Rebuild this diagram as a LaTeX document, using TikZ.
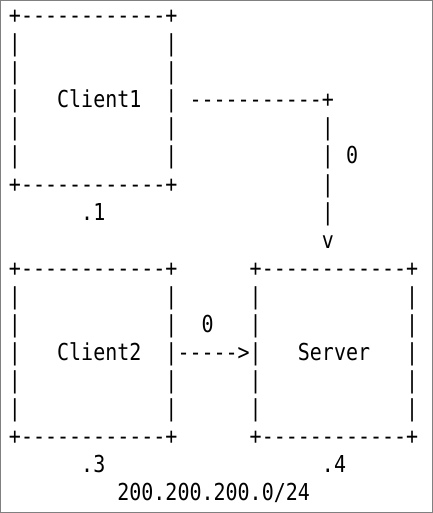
\documentclass[tikz,border=0pt]{standalone}
\usepackage{fontspec}
\usepackage{xcolor}
\usepackage{tikz}
\newfontfamily\asciifont[FakeStretch=0.857]{DejaVu Sans Mono}
\definecolor{framegray}{RGB}{128,128,128}

\begin{document}
\begin{tikzpicture}[
  x=9.03pt, y=-21.05pt,
  chr/.style={anchor=base west, inner sep=0pt, outer sep=0pt,
              font=\fontsize{17.5}{21}\asciifont},
  pageframe/.style={draw=framegray, line width=0.75pt},
]
  \useasboundingbox (-0.7475,-0.8446) rectangle (35.216,17.4376);
  \draw[pageframe] (-0.706,-0.8268) rectangle (35.174,17.4198);
  %% Client1 (.1)
  \node[chr] (c1top) at (0,0) {+------------+};
  \foreach \row in {1,...,5} {
    \node[chr] (c1l\row) at (0,\row)  {|};
    \node[chr] (c1r\row) at (13,\row) {|};
  }
  \node[chr] (c1bot)   at (0,6) {+------------+};
  \node[chr] (client1) at (4,3) {Client1};
  \node[chr] (c1ip)    at (6,7) {.1};
  %% Client1 --> Server
  \node[chr] (c1link) at (15,3) {-----------+};
  \foreach \row in {4,...,7}
    \node[chr] (c1down\row) at (26,\row) {|};
  \node[chr] (c1head)  at (26,8) {v};
  \node[chr] (c1label) at (28,5) {0};
  %% Client2 (.3)
  \node[chr] (c2top) at (0,9) {+------------+};
  \foreach \row in {10,...,14} {
    \node[chr] (c2l\row) at (0,\row)  {|};
    \node[chr] (c2r\row) at (13,\row) {|};
  }
  \node[chr] (c2bot)   at (0,15) {+------------+};
  \node[chr] (client2) at (4,12) {Client2};
  \node[chr] (c2ip)    at (6,16) {.3};
  %% Client2 --> Server
  \node[chr] (c2link)  at (14,12) {----->};
  \node[chr] (c2label) at (16,11) {0};
  %% Server (.4)
  \node[chr] (svtop) at (20,9) {+------------+};
  \foreach \row in {10,...,14} {
    \node[chr] (svl\row) at (20,\row) {|};
    \node[chr] (svr\row) at (33,\row) {|};
  }
  \node[chr] (svbot)  at (20,15) {+------------+};
  \node[chr] (server) at (24,12) {Server};
  \node[chr] (svip)   at (26,16) {.4};
  %% subnet
  \node[chr] (subnet) at (9,17) {200.200.200.0/24};
\end{tikzpicture}
\end{document}
